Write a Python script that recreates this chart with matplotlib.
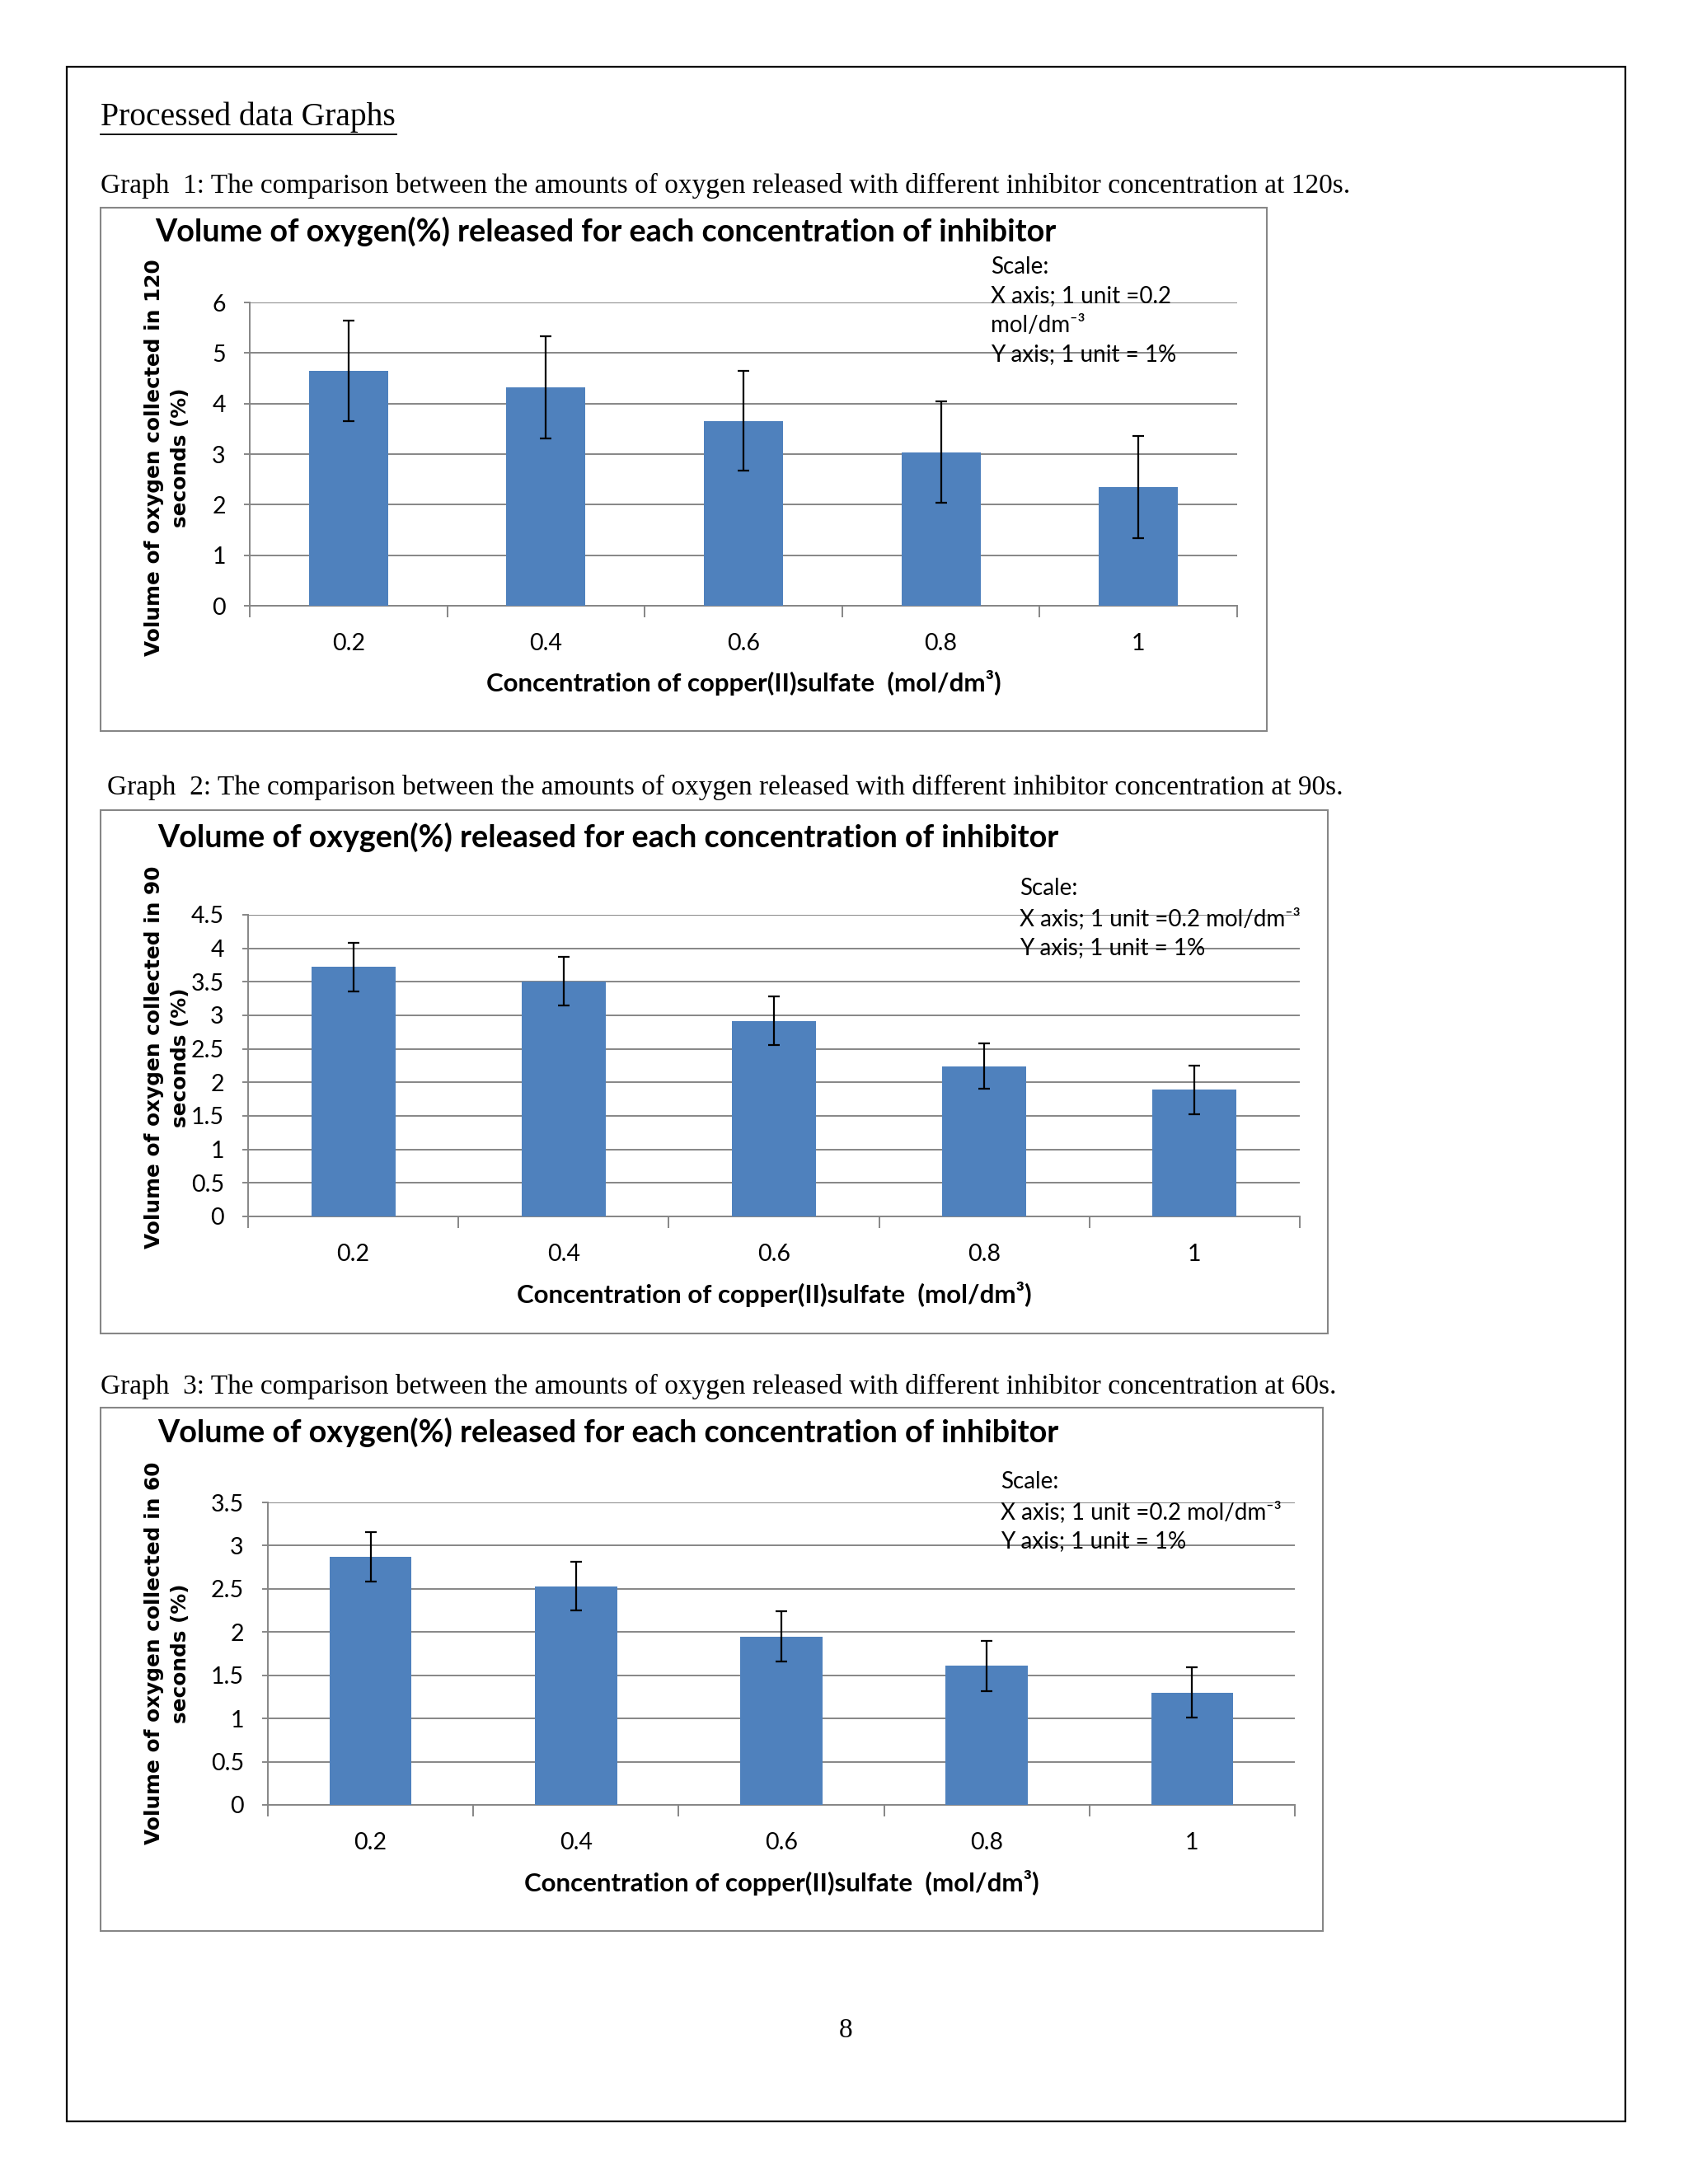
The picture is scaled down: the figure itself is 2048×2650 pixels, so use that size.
import matplotlib
matplotlib.use("Agg")
import matplotlib.pyplot as plt
from matplotlib.patches import Rectangle
from matplotlib.lines import Line2D

W, H = 2048, 2650

# data
conc_labels = ["0.2", "0.4", "0.6", "0.8", "1"]
times = ["120", "90", "60"]
captions_time = ["120s", "90s", "60s"]

vol_120 = [4.65, 4.32, 3.66, 3.04, 2.35]
err_120 = [0.99, 1.01, 0.99, 1.0, 1.01]
vol_90 = [3.72, 3.51, 2.92, 2.24, 1.89]
err_90 = [0.36, 0.36, 0.36, 0.34, 0.36]
vol_60 = [2.87, 2.53, 1.95, 1.61, 1.30]
err_60 = [0.29, 0.28, 0.29, 0.29, 0.29]

yticks_120 = [0, 1, 2, 3, 4, 5, 6]
yticks_90 = [0, 0.5, 1, 1.5, 2, 2.5, 3, 3.5, 4, 4.5]
yticks_60 = [0, 0.5, 1, 1.5, 2, 2.5, 3, 3.5]

plt.rcParams["font.family"] = ["Lato", "DejaVu Sans"]

BAR = "#4F81BD"
GRID = "#868686"


def fx(x):
    return x / W


def fy(y):
    return 1 - y / H


fig = plt.figure(figsize=(W / 100, H / 100), dpi=100)

# page frame
fig.add_artist(Rectangle((fx(81), fy(2574)), (1972 - 81) / W, (2574 - 81) / H,
                         transform=fig.transFigure, fill=False,
                         edgecolor="black", lw=1.6))

fig.text(fx(122), fy(142), "Processed data Graphs", family="Liberation Serif",
         fontsize=28.5, ha="left", va="center")
fig.add_artist(Line2D([fx(122), fx(481)], [fy(163), fy(163)],
                      transform=fig.transFigure, color="black", lw=1.3))

fig.text(fx(1026), fy(2464), "8", family="Liberation Serif", fontsize=24,
         ha="center", va="center")

# layout of each panel (pixels): box, axes, caption, title, y-label, scale note
layouts = [
    dict(box=(122, 252, 1537, 887), ax=(303, 367, 1501, 735), cap=(122, 225),
         title=(188, 281), ylab=(203, 555), scale=(1202, 311), xl=829),
    dict(box=(122, 983, 1611, 1618), ax=(301, 1110, 1577, 1476), cap=(130, 955),
         title=(191, 1016), ylab=(203, 1283), scale=(1237, 1065), xl=1571),
    dict(box=(122, 1708, 1605, 2343), ax=(325, 1823, 1571, 2190), cap=(122, 1682),
         title=(191, 1738), ylab=(203, 2006), scale=(1214, 1785), xl=2285),
]
series = [(vol_120, err_120, yticks_120), (vol_90, err_90, yticks_90),
          (vol_60, err_60, yticks_60)]
scale_notes = [
    "Scale:\nX axis; 1 unit =0.2\nmol/dm\u207b\u00b3\nY axis; 1 unit = 1%",
    "Scale:\nX axis; 1 unit =0.2 mol/dm\u207b\u00b3\nY axis; 1 unit = 1%",
    "Scale:\nX axis; 1 unit =0.2 mol/dm\u207b\u00b3\nY axis; 1 unit = 1%",
]

for i, (lay, (vals, errs, yt)) in enumerate(zip(layouts, series)):
    bx0, by0, bx1, by1 = lay["box"]
    fig.add_artist(Rectangle((fx(bx0), fy(by1)), (bx1 - bx0) / W, (by1 - by0) / H,
                             transform=fig.transFigure, fill=False,
                             edgecolor=GRID, lw=1.5))
    fig.text(fx(lay["cap"][0]), fy(lay["cap"][1]),
             f"Graph  {i + 1}: The comparison between the amounts of oxygen released "
             f"with different inhibitor concentration at {captions_time[i]}.",
             family="Liberation Serif", fontsize=24, ha="left", va="center")
    fig.text(fx(lay["title"][0]), fy(lay["title"][1]),
             "Volume of oxygen(%) released for each concentration of inhibitor",
             fontsize=27.2, fontweight="bold", ha="left", va="center")

    l, t, r, b = lay["ax"]
    ax = fig.add_axes([fx(l), fy(b), (r - l) / W, (b - t) / H])
    x = list(range(len(vals)))
    ax.bar(x, vals, width=0.4, color=BAR, zorder=3)
    ax.errorbar(x, vals, yerr=errs, fmt="none", ecolor="black", elinewidth=1.6,
                capsize=5, capthick=1.6, zorder=4)
    ax.set_xlim(-0.5, len(vals) - 0.5)
    ax.set_ylim(0, yt[-1])
    ax.set_yticks(yt)
    ax.set_yticklabels([f"{v:g}" for v in yt])
    ax.set_xticks(x)
    ax.set_xticklabels(conc_labels)
    ax.set_xticks([k - 0.5 for k in range(len(vals) + 1)], minor=True)
    ax.tick_params(axis="x", which="major", length=0, pad=24, labelsize=20.5)
    ax.tick_params(axis="x", which="minor", length=10, width=1.4, color=GRID)
    ax.tick_params(axis="y", length=5, width=1.4, color=GRID, pad=16, labelsize=20.5)
    ax.grid(axis="y", color=GRID, lw=1.4, zorder=0)
    for s in ["top", "right"]:
        ax.spines[s].set_visible(False)
    for s in ["left", "bottom"]:
        ax.spines[s].set_color(GRID)
        ax.spines[s].set_linewidth(1.4)

    fig.text(fx((l + r) / 2), fy(lay["xl"]),
             "Concentration of copper(II)sulfate  (mol/dm\u00b3)",
             fontsize=22.5, fontweight="bold", ha="center", va="center")
    fig.text(fx(lay["ylab"][0]), fy(lay["ylab"][1]),
             f"Volume of oxygen collected in {times[i]}\nseconds (%)",
             family="DejaVu Sans", fontsize=17.8, fontweight="bold", rotation=90,
             ha="center", va="center", linespacing=1.45, multialignment="center")
    fig.text(fx(lay["scale"][0]), fy(lay["scale"][1]), scale_notes[i],
             fontsize=20, ha="left", va="top", linespacing=1.45)

fig.savefig("out.png", dpi=100)
